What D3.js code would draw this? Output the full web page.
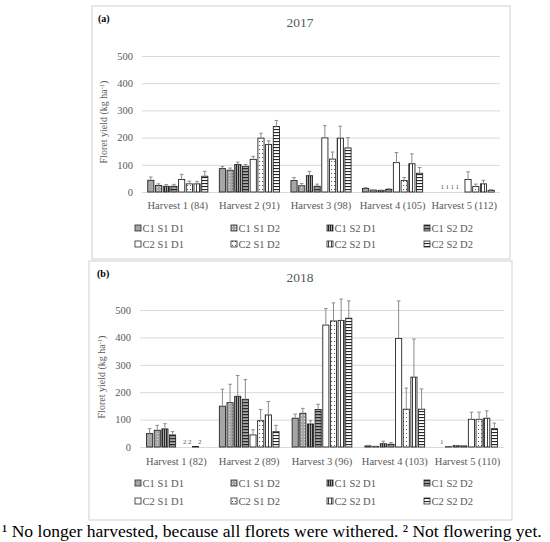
<!DOCTYPE html>
<html><head><meta charset="utf-8">
<script src="https://cdn.jsdelivr.net/npm/d3@7"></script>
<style>
body{margin:0;background:#fff;}
svg{display:block;}
text{font-family:"Liberation Serif","Times New Roman",serif;}
</style></head><body>
<svg id="chart" width="550" height="542"></svg>
<script>
// ---------- data ----------
const seriesNames = ["C1 S1 D1","C1 S1 D2","C1 S2 D1","C1 S2 D2","C2 S1 D1","C2 S1 D2","C2 S2 D1","C2 S2 D2"];
const harvests2017 = ["Harvest 1 (84)","Harvest 2 (91)","Harvest 3 (98)","Harvest 4 (105)","Harvest 5 (112)"];
const harvests2018 = ["Harvest 1 (82)","Harvest 2 (89)","Harvest 3 (96)","Harvest 4 (103)","Harvest 5 (110)"];
const yTicks = [0,100,200,300,400,500];
// rows = harvests, columns = series (order of seriesNames)
const yield2017 = [
  [43,24,21,21,46,30,30,58],
  [86,80,101,94,120,198,175,241],
  [42,23,60,21,199,121,198,162],
  [13,7,6,10,108,42,104,69],
  [0,0,0,0,46,20,30,6]
];
const err2017 = [
  [12,6,6,7,19,10,9,18],
  [8,8,9,7,11,18,13,22],
  [11,8,16,8,45,26,44,38],
  [3,1,1,2,37,11,36,21],
  [0,0,0,0,28,9,13,3]
];
const notes2017 = [
  ["","","","","","","",""],
  ["","","","","","","",""],
  ["","","","","","","",""],
  ["","","","","","","",""],
  ["1","1","1","1","","","",""]
];
const yield2018 = [
  [49,61,66,44,0,0,2,0],
  [149,162,185,174,44,96,117,56],
  [105,123,84,137,445,460,462,470],
  [4,2,12,10,396,138,255,138],
  [0,1,5,4,101,101,105,67]
];
const err2018 = [
  [18,18,19,12,0,0,0,0],
  [62,67,76,72,19,41,49,23],
  [15,18,12,19,60,66,78,63],
  [2,1,9,6,137,77,139,74],
  [0,0,1,1,26,26,27,20]
];
const notes2018 = [
  ["","","","","2","2","","2"],
  ["","","","","","","",""],
  ["","","","","","","",""],
  ["","","","","","","",""],
  ["1","","","","","","",""]
];
const footnote = "¹ No longer harvested, because all florets were withered. ² Not flowering yet.";

// ---------- drawing ----------
const svg = d3.select("#chart");
const defs = svg.append("defs");
const TXT = "#595959", GRID = "#d9d9d9", BORDER = "#d0d0d0", STROKE = "#262626";

function makePattern(id, w, h, bg, drawFn) {
  const p = defs.append("pattern").attr("id", id).attr("patternUnits", "userSpaceOnUse")
    .attr("width", w).attr("height", h);
  p.append("rect").attr("width", w).attr("height", h).attr("fill", bg);
  if (drawFn) drawFn(p);
}
makePattern("p0", 4, 4, "#a6a6a6");
makePattern("p1", 3, 3, "#a6a6a6", p => p.append("rect").attr("x",1).attr("y",1).attr("width",1).attr("height",1).attr("fill","#e0e0e0"));
makePattern("p2", 2, 2, "#a6a6a6", p => p.append("rect").attr("x",0).attr("y",0).attr("width",1).attr("height",2).attr("fill","#262626"));
makePattern("p3", 3, 3, "#a6a6a6", p => p.append("rect").attr("x",0).attr("y",0).attr("width",3).attr("height",1.2).attr("fill","#262626"));
makePattern("p4", 4, 4, "#ffffff");
makePattern("p5", 3, 4, "#ffffff", p => p.append("rect").attr("x",1).attr("y",1).attr("width",1).attr("height",1).attr("fill","#595959"));
makePattern("p6", 3, 3, "#ffffff", p => p.append("rect").attr("x",1).attr("y",0).attr("width",1).attr("height",3).attr("fill","#404040"));
makePattern("p7", 3, 3, "#ffffff", p => p.append("rect").attr("x",0).attr("y",0).attr("width",3).attr("height",1.1).attr("fill","#262626"));

function drawPanel(cfg) {
  const g = svg.append("g");
  g.append("rect").attr("x", cfg.box[0]).attr("y", cfg.box[1]).attr("width", cfg.box[2]).attr("height", cfg.box[3])
    .attr("fill", "#fff").attr("stroke", BORDER).attr("stroke-width", 1);

  g.append("text").attr("x", cfg.tagX).attr("y", cfg.tagY).attr("font-size", 10).attr("font-weight", "bold")
    .attr("fill", "#000").text(cfg.tag);
  g.append("text").attr("x", cfg.titleX).attr("y", cfg.titleY).attr("font-size", 13.5).attr("fill", TXT)
    .attr("text-anchor", "middle").text(cfg.title);

  const y = d3.scaleLinear().domain([0, 500]).range([cfg.y0, cfg.y500]);
  const x = d3.scaleBand().domain(cfg.categories).range(cfg.xRange)
    .paddingInner(cfg.padIn).paddingOuter(cfg.padOut);
  const xs = d3.scaleBand().domain(d3.range(seriesNames.length)).range([0, x.bandwidth()]).paddingInner(0.2);

  // gridlines + y tick labels
  const ax = g.append("g").attr("transform", `translate(${cfg.xRange[0]},0)`)
    .call(d3.axisLeft(y).tickValues(yTicks).tickSize(-(cfg.xRange[1] - cfg.xRange[0])).tickPadding(9));
  ax.select(".domain").remove();
  ax.selectAll(".tick line").attr("stroke", GRID).attr("stroke-width", 1);
  ax.selectAll(".tick text").attr("fill", TXT).attr("font-size", 10.5).attr("font-family", '"Liberation Serif",serif');

  // category labels
  const bx = g.append("g").attr("transform", `translate(0,${cfg.y0})`)
    .call(d3.axisBottom(x).tickSize(0).tickPadding(cfg.catPad));
  bx.select(".domain").remove();
  bx.selectAll(".tick text").attr("fill", TXT).attr("font-size", 10.5).attr("font-family", '"Liberation Serif",serif');

  // y axis title
  const yt = g.append("text").attr("transform", `translate(${cfg.ylabX},${cfg.ylabY}) rotate(-90)`)
    .attr("text-anchor", "middle").attr("font-size", 10).attr("fill", TXT);
  yt.append("tspan").text("Floret yield (kg ha");
  yt.append("tspan").attr("dy", -3.5).attr("font-size", 6.5).text("-1");
  yt.append("tspan").attr("dy", 3.5).text(")");

  // bars
  cfg.categories.forEach((cat, hi) => {
    const gx = x(cat);
    const grp = g.append("g");
    const center = si => gx + xs(si) + xs.bandwidth() / 2;
    const noted = seriesNames.map((s, si) => si).filter(si => cfg.notes[hi][si]);
    const noteMean = noted.length ? d3.mean(noted, center) : 0;
    seriesNames.forEach((s, si) => {
      const v = cfg.values[hi][si], e = cfg.errors[hi][si], note = cfg.notes[hi][si];
      const bx0 = gx + xs(si), bw = xs.bandwidth();
      if (v > 0) {
        grp.append("rect").attr("x", bx0).attr("y", y(v)).attr("width", bw).attr("height", y(0) - y(v))
          .attr("fill", `url(#p${si})`).attr("stroke", STROKE).attr("stroke-width", 0.9);
      }
      if (e > 0) {
        const cx = bx0 + bw / 2;
        grp.append("line").attr("x1", cx).attr("x2", cx).attr("y1", y(v)).attr("y2", y(v + e))
          .attr("stroke", "#8c8c8c").attr("stroke-width", 1);
        grp.append("line").attr("x1", cx - 1.8).attr("x2", cx + 1.8).attr("y1", y(v + e)).attr("y2", y(v + e))
          .attr("stroke", "#8c8c8c").attr("stroke-width", 1);
      }
      if (note) {
        // small data labels sit closer together than the bars, as in the source
        const lx = noteMean + (center(si) - noteMean) * 0.65 + 1;
        grp.append("text").attr("x", lx).attr("y", y(0) - 3.5).attr("text-anchor", "middle")
          .attr("font-size", 7).attr("fill", TXT).text(note);
      }
    });
  });

  // legend
  seriesNames.forEach((s, si) => {
    const col = si % 4, row = Math.floor(si / 4);
    const lx = cfg.legX[col], ly = cfg.legY[row];
    g.append("rect").attr("x", lx).attr("y", ly - 3).attr("width", 6).attr("height", 6)
      .attr("fill", `url(#p${si})`).attr("stroke", STROKE).attr("stroke-width", 0.8);
    g.append("text").attr("x", lx + 7.5).attr("y", ly + 3.7).attr("font-size", 10.5).attr("fill", TXT).text(s);
  });
}

drawPanel({
  box: [92, 6, 418, 253], tag: "(a)", tagX: 98, tagY: 21.5, title: "2017", titleX: 300, titleY: 26.5,
  y0: 192, y500: 56, xRange: [142, 500], padIn: 0.16, padOut: 0.08, categories: harvests2017,
  values: yield2017, errors: err2017, notes: notes2017, catPad: 10,
  ylabX: 107, ylabY: 122, legX: [135, 231, 327, 424], legY: [228, 244]
});
drawPanel({
  box: [89, 261, 423, 259], tag: "(b)", tagX: 97, tagY: 276.5, title: "2018", titleX: 300, titleY: 281.5,
  y0: 447, y500: 310, xRange: [140, 504], padIn: 0.18, padOut: 0.09, categories: harvests2018,
  values: yield2018, errors: err2018, notes: notes2018, catPad: 11,
  ylabX: 105, ylabY: 377, legX: [135, 231, 327, 424], legY: [483, 501]
});

// footnote, sized to span the page width
const fn = svg.append("text").attr("x", 2).attr("y", 537).attr("fill", "#000").attr("font-size", 14).text(footnote);
const w = fn.node().getComputedTextLength();
fn.attr("font-size", 14 * 540 / w);
</script>
</body></html>
